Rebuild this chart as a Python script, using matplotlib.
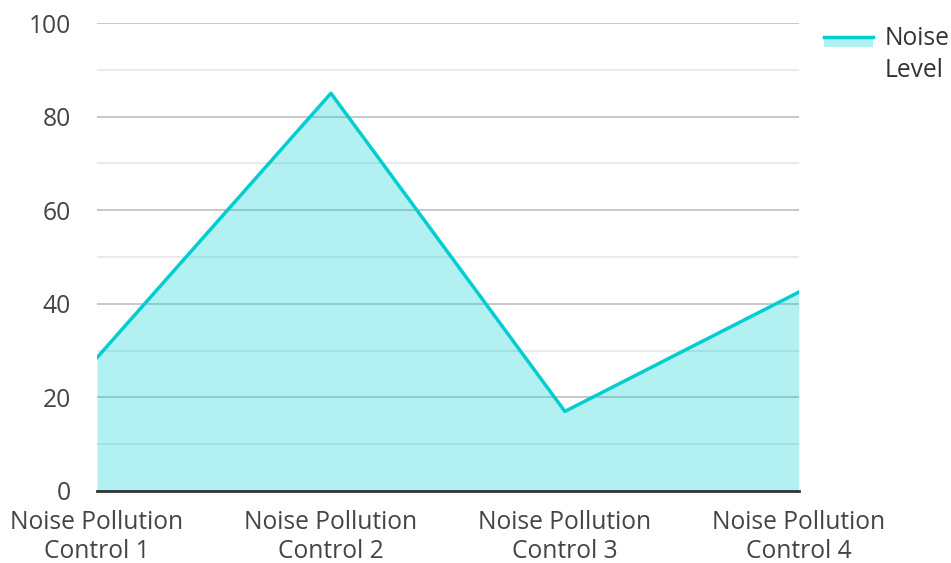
import matplotlib
matplotlib.use("Agg")
import matplotlib.pyplot as plt
from matplotlib.patches import Rectangle
from matplotlib.lines import Line2D

categories = ["Noise Pollution\nControl 1", "Noise Pollution\nControl 2",
              "Noise Pollution\nControl 3", "Noise Pollution\nControl 4"]
noise_level = [28.5, 85, 17, 42.5]
series_name = "Noise\nLevel"

plt.rcParams['font.family'] = ['Open Sans', 'DejaVu Sans']

line_col = "#00CED1"
fs = 17.7


class AreaHandler:
    # line on top, pale fill under it, lifted to sit next to the first label line
    def legend_artist(self, legend, orig_handle, fontsize, handlebox):
        x0, y0 = handlebox.xdescent, handlebox.ydescent
        w = handlebox.width
        tr = handlebox.get_transform()
        line_y = y0 + fontsize * 0.7 + 7.5
        patch = Rectangle([x0, line_y - 7.5], w, 7.5, facecolor=line_col,
                          alpha=0.3, linewidth=0, transform=tr)
        line = Line2D([x0, x0 + w], [line_y] * 2, color=line_col,
                      linewidth=2.5, transform=tr)
        handlebox.add_artist(patch)
        handlebox.add_artist(line)
        return patch


fig = plt.figure(figsize=(9.51, 5.63), dpi=100)
ax = fig.add_axes([0.102, 0.128, 0.738, 0.831])

x = list(range(len(categories)))
area = ax.fill_between(x, noise_level, 0, color=line_col, alpha=0.3, linewidth=0, zorder=3)
ax.plot(x, noise_level, color=line_col, linewidth=2.5, zorder=4)

ax.set_xlim(0, len(categories) - 1)
ax.set_ylim(0, 100)
ax.set_yticks(range(0, 101, 20))
ax.set_yticks(range(10, 100, 20), minor=True)
ax.set_xticks(x)
ax.set_xticklabels(categories, linespacing=1.19)
ax.grid(axis='y', which='major', color='#c4c4c4', linewidth=1.3, zorder=1)
ax.grid(axis='y', which='minor', color='#e8e8e8', linewidth=1.3, zorder=1)

for s in ['top', 'right', 'left']:
    ax.spines[s].set_visible(False)
ax.spines['bottom'].set_color('#333333')
ax.spines['bottom'].set_linewidth(2)
ax.spines['bottom'].set_zorder(5)
ax.tick_params(axis='both', which='both', length=0, labelsize=fs, colors='#444444')
ax.tick_params(axis='y', pad=19)
ax.tick_params(axis='x', pad=14)

leg = fig.legend([area], [series_name], loc='upper left', bbox_to_anchor=(0.8665, 0.954),
                 frameon=False, fontsize=fs, handlelength=2.0, handletextpad=0.45,
                 borderpad=0, borderaxespad=0, handler_map={type(area): AreaHandler()})
for t in leg.get_texts():
    t.set_color('#333333')
    t.set_linespacing(1.4)

fig.savefig("out.png", dpi=100)
